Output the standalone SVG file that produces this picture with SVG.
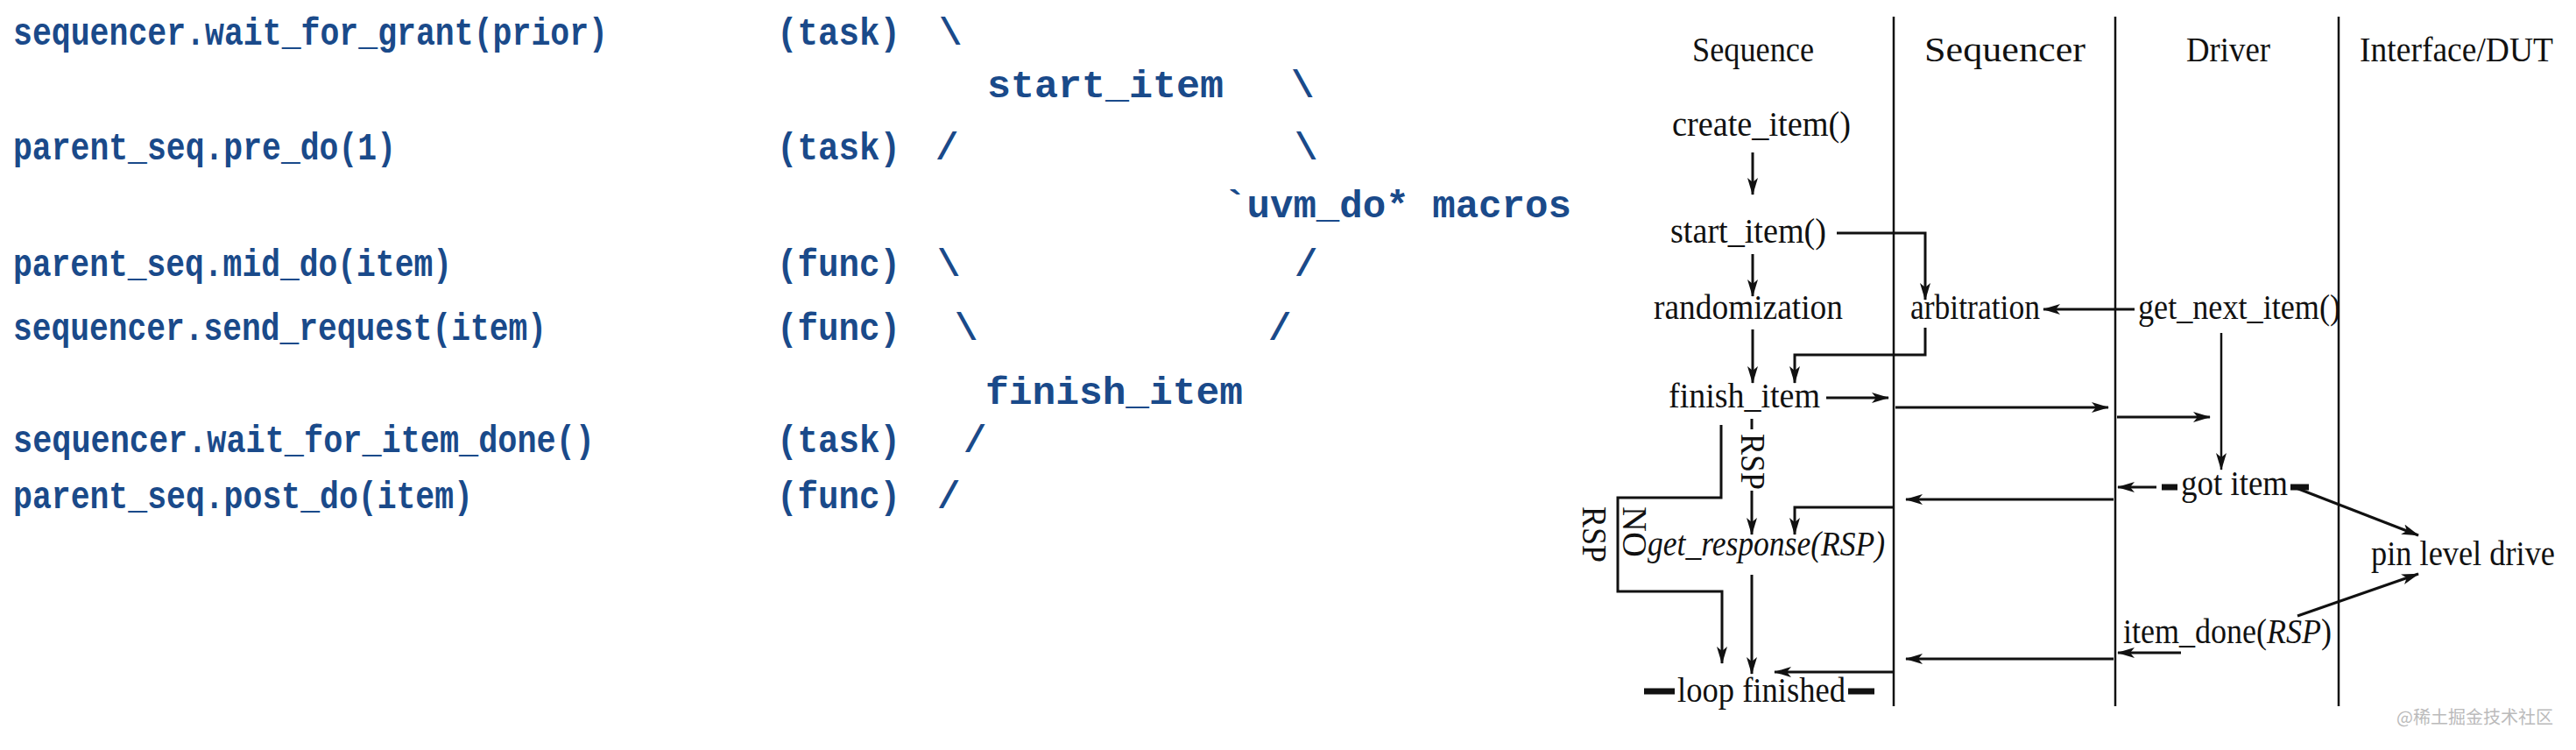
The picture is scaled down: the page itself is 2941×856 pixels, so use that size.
<svg xmlns="http://www.w3.org/2000/svg" width="2941" height="856" viewBox="0 0 2941 856">
<style>
.c{font-family:"Liberation Mono",monospace;font-weight:bold;font-size:44px;fill:#1a4a8a}
.t{font-family:"Liberation Serif",serif;font-size:40px;fill:#111}
.i{font-style:italic}
.l{stroke:#111;stroke-width:3;fill:none}
.ln{stroke:#111;stroke-width:2.5;fill:none}
.bar{stroke:#111;stroke-width:7}
</style>
<defs>
<marker id="a" viewBox="0 0 20 12" refX="19" refY="6" markerWidth="20" markerHeight="12" markerUnits="userSpaceOnUse" orient="auto"><path d="M0,0 L20,6 L0,12 L5,6 Z" fill="#111"/></marker>
</defs>
<rect width="2941" height="856" fill="#fff"/>
<g id="code">
<text class="c" x="15" y="51" textLength="679" lengthAdjust="spacingAndGlyphs">sequencer.wait_for_grant(prior)</text><text class="c" x="887" y="51" textLength="141" lengthAdjust="spacingAndGlyphs">(task)</text><text class="c" x="1072" y="51">\</text>
<text class="c" x="1127" y="111" textLength="270" lengthAdjust="spacingAndGlyphs">start_item</text><text class="c" x="1474" y="111">\</text>
<text class="c" x="15" y="182" textLength="437" lengthAdjust="spacingAndGlyphs">parent_seq.pre_do(1)</text><text class="c" x="887" y="182" textLength="141" lengthAdjust="spacingAndGlyphs">(task)</text><text class="c" x="1068" y="182">/</text><text class="c" x="1478" y="182">\</text>
<text class="c" x="1397" y="248" textLength="397" lengthAdjust="spacingAndGlyphs">`uvm_do* macros</text>
<text class="c" x="15" y="315" textLength="501" lengthAdjust="spacingAndGlyphs">parent_seq.mid_do(item)</text><text class="c" x="887" y="315" textLength="141" lengthAdjust="spacingAndGlyphs">(func)</text><text class="c" x="1070" y="315">\</text><text class="c" x="1478" y="315">/</text>
<text class="c" x="15" y="388" textLength="609" lengthAdjust="spacingAndGlyphs">sequencer.send_request(item)</text><text class="c" x="887" y="388" textLength="141" lengthAdjust="spacingAndGlyphs">(func)</text><text class="c" x="1090" y="388">\</text><text class="c" x="1448" y="388">/</text>
<text class="c" x="1125" y="461" textLength="294" lengthAdjust="spacingAndGlyphs">finish_item</text>
<text class="c" x="15" y="516" textLength="664" lengthAdjust="spacingAndGlyphs">sequencer.wait_for_item_done()</text><text class="c" x="887" y="516" textLength="141" lengthAdjust="spacingAndGlyphs">(task)</text><text class="c" x="1100" y="516">/</text>
<text class="c" x="15" y="580" textLength="525" lengthAdjust="spacingAndGlyphs">parent_seq.post_do(item)</text><text class="c" x="887" y="580" textLength="141" lengthAdjust="spacingAndGlyphs">(func)</text><text class="c" x="1070" y="580">/</text>
</g>
<g id="lanes">
<line class="ln" x1="2162" y1="19" x2="2162" y2="806"/>
<line class="ln" x1="2415" y1="19" x2="2415" y2="806"/>
<line class="ln" x1="2670" y1="19" x2="2670" y2="806"/>
<text class="t" x="1932" y="70" textLength="139" lengthAdjust="spacingAndGlyphs">Sequence</text>
<text class="t" x="2197" y="70" textLength="184" lengthAdjust="spacingAndGlyphs">Sequencer</text>
<text class="t" x="2496" y="70" textLength="96" lengthAdjust="spacingAndGlyphs">Driver</text>
<text class="t" x="2694" y="70" textLength="221" lengthAdjust="spacingAndGlyphs">Interface/DUT</text>
</g>
<g id="n-create"><text class="t" x="1909" y="155" textLength="204" lengthAdjust="spacingAndGlyphs">create_item()</text></g>
<g id="n-start"><text class="t" x="1907" y="277" textLength="178" lengthAdjust="spacingAndGlyphs">start_item()</text></g>
<g id="n-rand"><text class="t" x="1888" y="364" textLength="216" lengthAdjust="spacingAndGlyphs">randomization</text></g>
<g id="n-arb"><text class="t" x="2181" y="364" textLength="148" lengthAdjust="spacingAndGlyphs">arbitration</text></g>
<g id="n-gni"><text class="t" x="2441" y="364" textLength="231" lengthAdjust="spacingAndGlyphs">get_next_item()</text></g>
<g id="n-finish"><text class="t" x="1905" y="465" textLength="173" lengthAdjust="spacingAndGlyphs">finish_item</text></g>
<g id="n-got"><text class="t" x="2490" y="565" textLength="122" lengthAdjust="spacingAndGlyphs">got item</text><line class="bar" x1="2468" y1="556" x2="2486" y2="556"/><line class="bar" x1="2615" y1="556" x2="2636" y2="556"/></g>
<g id="n-pin"><text class="t" x="2707" y="645" textLength="210" lengthAdjust="spacingAndGlyphs">pin level drive</text></g>
<g id="n-getresp"><text class="t i" x="1881" y="634" textLength="271" lengthAdjust="spacingAndGlyphs">get_response(RSP)</text></g>
<g id="n-done"><text class="t" x="2424" y="734" textLength="238" lengthAdjust="spacingAndGlyphs">item_done(<tspan class="i">RSP</tspan>)</text></g>
<g id="n-loop"><text class="t" x="1915" y="801" textLength="192" lengthAdjust="spacingAndGlyphs">loop finished</text><line class="bar" x1="1877" y1="789" x2="1912" y2="789"/><line class="bar" x1="2110" y1="789" x2="2140" y2="789"/></g>
<g id="connectors">
<line class="l" x1="2001" y1="174" x2="2001" y2="222" marker-end="url(#a)"/>
<path class="l" d="M2097,266 H2198 V342" marker-end="url(#a)"/>
<line class="l" x1="2001" y1="290" x2="2001" y2="338" marker-end="url(#a)"/>
<line class="l" x1="2437" y1="353" x2="2333" y2="353" marker-end="url(#a)"/>
<path class="l" d="M2198,374 V405 H2049 V437" marker-end="url(#a)"/>
<line class="l" x1="2001" y1="376" x2="2001" y2="437" marker-end="url(#a)"/>
<line class="l" x1="2085" y1="454" x2="2156" y2="454" marker-end="url(#a)"/>
<line class="l" x1="2164" y1="465" x2="2407" y2="465" marker-end="url(#a)"/>
<line class="l" x1="2417" y1="476" x2="2523" y2="476" marker-end="url(#a)"/>
<line class="ln" x1="2536" y1="380" x2="2536" y2="536" marker-end="url(#a)"/>
<line class="l" x1="2462" y1="556" x2="2418" y2="556" marker-end="url(#a)"/>
<line class="l" x1="2413" y1="570" x2="2176" y2="570" marker-end="url(#a)"/>
<path class="l" d="M2162,579 H2049 V610" marker-end="url(#a)"/>
<line class="l" x1="2000" y1="478" x2="2000" y2="490"/>
<text class="t" transform="translate(2000,495) rotate(90)" x="0" y="12" textLength="64" lengthAdjust="spacingAndGlyphs">RSP</text>
<line class="l" x1="2000" y1="560" x2="2000" y2="610" marker-end="url(#a)"/>
<path class="l" d="M1965,485 V568 H1847 V675 H1966 V757" marker-end="url(#a)"/>
<text class="t" transform="translate(1853,578) rotate(90)" x="0" y="0">NO</text>
<text class="t" transform="translate(1807,578) rotate(90)" x="0" y="0" textLength="64" lengthAdjust="spacingAndGlyphs">RSP</text>
<line class="l" x1="2000" y1="656" x2="2000" y2="769" marker-end="url(#a)"/>
<line class="l" x1="2619" y1="556" x2="2761" y2="611" marker-end="url(#a)"/>
<line class="l" x1="2623" y1="703" x2="2761" y2="655" marker-end="url(#a)"/>
<line class="l" x1="2490" y1="745" x2="2418" y2="745" marker-end="url(#a)"/>
<line class="l" x1="2413" y1="752" x2="2176" y2="752" marker-end="url(#a)"/>
<line class="l" x1="2162" y1="767" x2="2026" y2="767" marker-end="url(#a)"/>
</g>
<text x="2915" y="826" text-anchor="end" font-family="'Noto Sans CJK SC',sans-serif" font-size="20" fill="#bbb">@稀土掘金技术社区</text>
</svg>
